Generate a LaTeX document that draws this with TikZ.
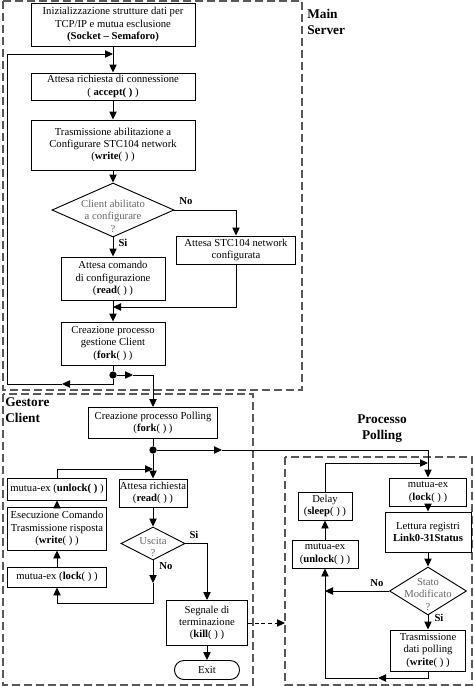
\documentclass[tikz,border=0pt]{standalone}
\usepackage{fontspec}
\setmainfont{Liberation Serif}
\usetikzlibrary{shapes.geometric,arrows.meta}
\begin{document}
\begin{tikzpicture}[x=0.75pt,y=-0.75pt,
  font=\fontsize{8}{9.3}\selectfont,
  box/.style={draw,line width=0.7pt,align=center,inner sep=0pt},
  sz/.style 2 args={minimum width=#1*0.75pt,minimum height=#2*0.75pt},
  dia/.style={draw,diamond,line width=0.7pt,inner sep=0pt},
  dtxt/.style={text=black!60,align=center},
  dot/.style={circle,fill=black,inner sep=0pt,minimum size=5.5pt},
  arr/.style={line width=0.7pt,-{Triangle[length=6pt,width=5.5pt]}},
  ln/.style={line width=0.7pt},
  region/.style={draw=black!65,line width=0.9pt,dash pattern=on 6pt off 3pt},
  regionlabel/.style={font=\fontsize{10}{12}\selectfont\bfseries},
  lbl/.style={font=\fontsize{8}{9.3}\selectfont\bfseries,inner sep=0pt}
]
\useasboundingbox (0,0) rectangle (474,686);

% regions
\draw[region] (3,1) rectangle (302,390);
\draw[region] (3,394) rectangle (253,685);
\draw[region] (285,457) rectangle (472,685);

\node[regionlabel,anchor=north west,align=left,inner sep=0pt] (mainL) at (307,9) {Main\\Server};
\node[regionlabel,anchor=north west,align=left,inner sep=0pt] (gestL) at (5,397) {Gestore\\Client};
\node[regionlabel,align=center,inner sep=0pt] (pollL) at (382,429) {Processo\\Polling};

% Main server
\node[box,sz={164}{43}] (init) at (113,24.5) {Inizializzazione strutture dati per\\TCP/IP e mutua esclusione\\\textbf{(Socket -- Semaforo)}};
\node[box,sz={164}{27}] (accept) at (113,86.5) {Attesa richiesta di connessione\\( \textbf{accept( )} )};
\node[box,sz={164}{50}] (trasm) at (113,145) {Trasmissione abilitazione a\\Configurare STC104 network\\(\textbf{write}( ) )};
\node[dia,sz={122}{54},label={[dtxt,yshift=-4.5pt]center:Client abilitato\\a configurare\\?}] (d1) at (113,210) {};
\node[box,sz={119}{28}] (stc) at (236,250) {Attesa STC104 network\\configurata};
\node[box,sz={104}{43}] (comando) at (113,278.5) {Attesa comando\\di configurazione\\(\textbf{read}( ) )};
\node[box,sz={104}{43}] (gestione) at (113,343.5) {Creazione processo\\gestione Client\\(\textbf{fork}( ) )};
\node[dot] (dot1) at (113,375) {};

\node[lbl] (noA) at (186,201) {No};
\node[lbl] (siA) at (123,243) {Si};

% Gestore client
\node[box,sz={129}{31}] (pollc) at (153,423) {Creazione processo Polling\\(\textbf{fork}( ) )};
\node[dot] (dot2) at (153,450) {};
\node[box,sz={99}{22}] (unlockC) at (57,489) {mutua-ex (\textbf{unlock( )} )};
\node[box,sz={99}{43}] (esec) at (57,528.5) {Esecuzione Comando\\Trasmissione risposta\\(\textbf{write}( ) )};
\node[box,sz={99}{20}] (lockC) at (57,577) {mutua-ex (\textbf{lock}( ) )};
\node[box,sz={68}{28}] (attR) at (153,493) {Attesa richiesta\\(\textbf{read}( ) )};
\node[dia,sz={64}{33},label={[dtxt,yshift=-2.5pt]center:Uscita\\?}] (usc) at (153,543.5) {};
\node[box,sz={81}{45}] (segn) at (207,623) {Segnale di\\terminazione\\(\textbf{kill}( ) )};
\node[box,sz={65}{19},rounded corners=7pt] (exit) at (207,670) {Exit};

\node[lbl] (siB) at (194,535) {Si};
\node[lbl] (noB) at (166,566) {No};

% Processo polling
\node[box,sz={77}{28}] (lockP) at (428,492) {mutua-ex\\(\textbf{lock}( ) )};
\node[box,sz={86}{40}] (lett) at (428,532) {Lettura registri\\\textbf{Link0-31Status}};
\node[dia,sz={77}{48},label={[dtxt,yshift=-2.5pt]center:Stato\\Modificato\\?}] (stato) at (428,591) {};
\node[box,sz={75}{41}] (trasP) at (428,650.5) {Trasmissione\\dati polling\\(\textbf{write}( ) )};
\node[box,sz={66}{28}] (unlockP) at (325,554) {mutua-ex\\(\textbf{unlock}( ) )};
\node[box,sz={54}{28}] (delay) at (325,506) {Delay\\(\textbf{sleep}( ) )};

\node[lbl] (noC) at (377,583) {No};
\node[lbl] (siC) at (439,618) {Si};

% coordinates
\coordinate (j1) at (113,54);
\coordinate (j2) at (113,307);
\coordinate (l1) at (113,384);
\coordinate (a1) at (62,384);
\coordinate (l2) at (7,384);
\coordinate (l3) at (7,54);
\coordinate (a2) at (133,375);
\coordinate (a3) at (222,450);
\coordinate (b2) at (153,469);
\coordinate (c1) at (153,583);
\coordinate (c2) at (153,603);
\coordinate (pl) at (285,623);
\coordinate (d2) at (378,678);
\coordinate (d3) at (325,591);
\coordinate (d4) at (428,463);

% main server connectors
\draw[arr] (init) -- (accept);
\draw[arr] (accept) -- (trasm);
\draw[arr] (trasm) -- (d1);
\draw[arr] (d1) -- (comando);
\draw[arr] (d1.east) -| (stc);
\draw[arr] (stc) |- (j2);
\draw[arr] (comando) -- (gestione);
\draw[ln] (gestione) -- (dot1);
\draw[arr] (dot1) -- (l1) -- (a1);
\draw[arr] (a1) -- (l2) -- (l3) -- (j1);
\draw[arr] (dot1) -- (a2);
\draw[arr] (a2) -| (pollc);

% gestore connectors
\draw[ln] (pollc) -- (dot2);
\draw[arr] (dot2) -- (attR);
\draw[arr] (dot2) -- (a3);
\draw[arr] (a3) -| (lockP);
\draw[arr] (unlockC) |- (b2);
\draw[arr] (attR) -- (usc);
\draw[arr] (usc.east) -| (segn);
\draw[arr] (usc) -- (c1);
\draw[arr] (c1) -- (c2) -| (lockC);
\draw[arr] (lockC) -- (esec);
\draw[arr] (esec) -- (unlockC);
\draw[arr] (segn) -- (exit);
\draw[arr,dash pattern=on 3pt off 2pt] (segn) -- (pl);

% polling connectors
\draw[arr] (lockP) -- (lett);
\draw[arr] (lett) -- (stato);
\draw[arr] (stato) -- (trasP);
\draw[arr] (trasP) |- (d2);
\draw[arr] (d2) -| (unlockP);
\draw[arr] (stato) -- (d3);
\draw[arr] (unlockP) -- (delay);
\draw[arr] (delay) |- (d4);
\end{tikzpicture}
\end{document}
